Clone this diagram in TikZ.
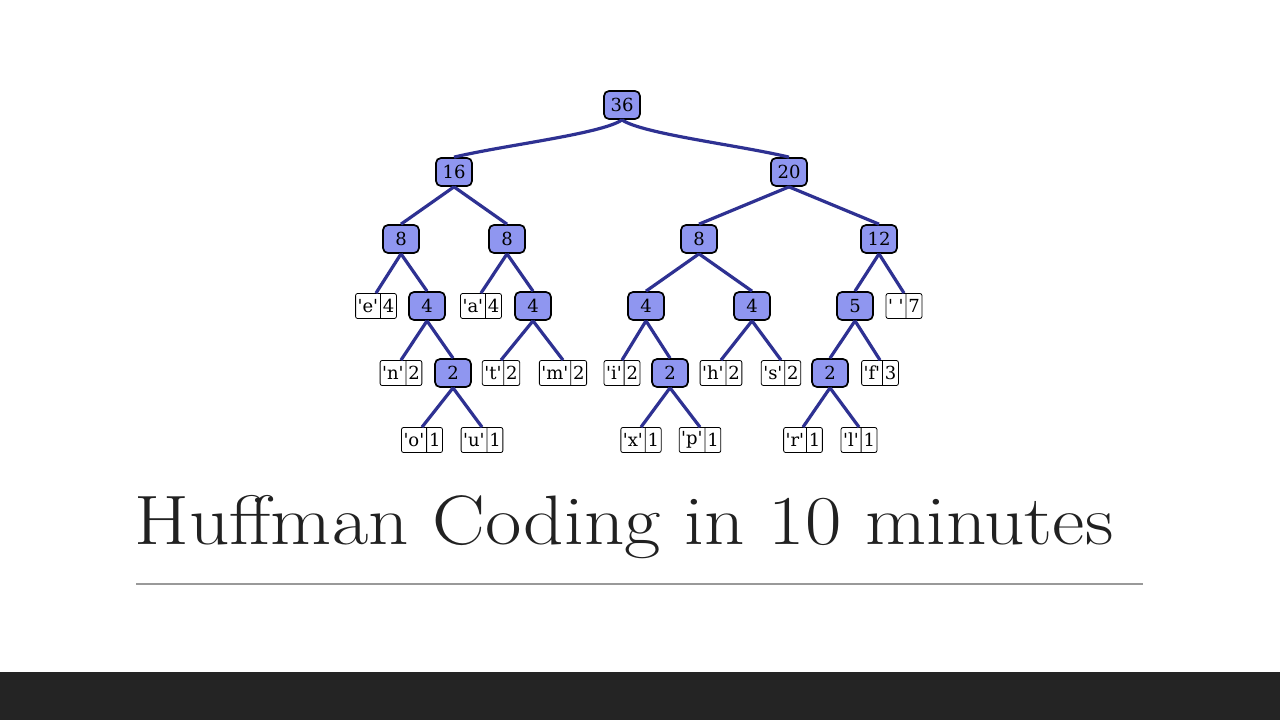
\documentclass[tikz,border=0pt]{standalone}
\usepackage{fontspec}
\newfontfamily\treefont{DejaVu Serif}
\usetikzlibrary{shapes.multipart}
\definecolor{nodefill}{HTML}{8F96F0}
\definecolor{edgecol}{HTML}{2E3192}
\newcommand{\q}[1]{\textquotesingle#1\textquotesingle}
\tikzset{
  inner/.style={draw=black, line width=1.7pt, fill=nodefill, rounded corners=5pt, minimum width=36pt, minimum height=28pt, inner sep=1pt, font=\treefont\fontsize{18}{18}\selectfont},
  leaf/.style={draw=black, line width=0.8pt, rectangle split, rectangle split horizontal, rectangle split parts=2, rounded corners=2pt, inner xsep=2pt, minimum height=25pt, inner ysep=2pt, font=\treefont\fontsize{18}{18}\selectfont},
  edge/.style={draw=edgecol, line width=3.2pt}
}
\begin{document}
\begin{tikzpicture}[x=1pt,y=-1pt]
\fill[white] (0,0) rectangle (1280,720);
\fill[black!86] (0,672) rectangle (1280,720);
\draw[gray!80, line width=1.2pt] (136,584) -- (1143,584);
\node[anchor=base west, inner sep=0, xscale=1.13, font=\fontsize{70}{70}\selectfont, text=black!87] (title) at (134,544) {Huffman Coding in 10 minutes};
\node[inner] (r) at (622,105) {36};
\node[inner] (a) at (454,172) {16};
\node[inner] (b) at (789,172) {20};
\node[inner] (c) at (401,239) {8};
\node[inner] (d) at (507,239) {8};
\node[inner] (e) at (699,239) {8};
\node[inner] (f) at (879,239) {12};
\node[leaf] (le) at (376,306) {\q{e}\nodepart{two}4};
\node[inner] (g) at (427,306) {4};
\node[leaf] (la) at (481,306) {\q{a}\nodepart{two}4};
\node[inner] (h) at (533,306) {4};
\node[inner] (i) at (646,306) {4};
\node[inner] (j) at (752,306) {4};
\node[inner] (k) at (855,306) {5};
\node[leaf] (lsp) at (904,306) {\q{\ }\nodepart{two}7};
\node[leaf] (ln) at (401,373) {\q{n}\nodepart{two}2};
\node[inner] (l) at (453,373) {2};
\node[leaf] (lt) at (501,373) {\q{t}\nodepart{two}2};
\node[leaf] (lm) at (563,373) {\q{m}\nodepart{two}2};
\node[leaf] (li) at (622,373) {\q{i}\nodepart{two}2};
\node[inner] (m) at (670,373) {2};
\node[leaf] (lh) at (721,373) {\q{h}\nodepart{two}2};
\node[leaf] (ls) at (781,373) {\q{s}\nodepart{two}2};
\node[inner] (n) at (830,373) {2};
\node[leaf] (lf) at (880,373) {\q{f}\nodepart{two}3};
\node[leaf] (lo) at (422,440) {\q{o}\nodepart{two}1};
\node[leaf] (lu) at (482,440) {\q{u}\nodepart{two}1};
\node[leaf] (lx) at (641,440) {\q{x}\nodepart{two}1};
\node[leaf] (lp) at (700,440) {\q{p}\nodepart{two}1};
\node[leaf] (lr) at (803,440) {\q{r}\nodepart{two}1};
\node[leaf] (ll) at (859,440) {\q{l}\nodepart{two}1};
\begin{scope}[edge]
\draw (r.south) .. controls +(-20,14) and +(50,-12) .. (a.north);
\draw (r.south) .. controls +(20,14) and +(-50,-12) .. (b.north);
\foreach \p/\c in {a/c,a/d,b/e,b/f,c/le,c/g,d/la,d/h,e/i,e/j,f/k,f/lsp,g/ln,g/l,h/lt,h/lm,i/li,i/m,j/lh,j/ls,k/n,k/lf,l/lo,l/lu,m/lx,m/lp,n/lr,n/ll}
  \draw (\p.south) -- (\c.north);
\end{scope}
\end{tikzpicture}
\end{document}
